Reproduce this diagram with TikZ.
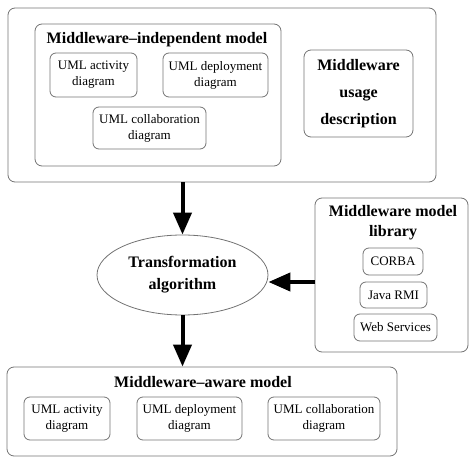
\documentclass[tikz,border=0pt]{standalone}
\usepackage{fontspec}
\setmainfont{Liberation Serif}
\usetikzlibrary{arrows.meta,shapes.geometric}
\begin{document}
\begin{tikzpicture}[x=1pt,y=-1pt,
  bigbox/.style={draw=black!55,line width=0.8pt,rounded corners=7pt,inner sep=0pt},
  smallbox/.style={draw=black!55,line width=0.8pt,rounded corners=6pt,inner sep=0pt,align=center,font=\fontsize{13}{16}\selectfont},
  titletext/.style={align=center,inner sep=0pt,font=\fontsize{16}{20}\bfseries\selectfont},
  bigarrow/.style={line width=4pt,-{Triangle[width=18pt,length=22pt]}}]
\useasboundingbox (0,0) rectangle (474,462);
% top outer
\node[bigbox,minimum width=428pt,minimum height=174pt] (outer) at (222,95) {};
\node[bigbox,minimum width=246pt,minimum height=142pt] (mim) at (158,95) {};
\node[titletext] (mimt) at (157,40) {Middleware--independent model};
\node[smallbox,minimum width=87pt,minimum height=44pt] (act1) at (93.5,75) {UML activity\\diagram};
\node[smallbox,minimum width=105pt,minimum height=44pt] (dep1) at (215.5,75) {UML deployment\\diagram};
\node[smallbox,minimum width=113pt,minimum height=42pt] (col1) at (149.5,128) {UML collaboration\\diagram};
\node[bigbox,minimum width=109pt,minimum height=87pt,align=center,font=\fontsize{16}{27}\bfseries\selectfont] (usage) at (358.5,93.5) {Middleware\\usage\\description};
% ellipse
\node[ellipse,draw=black!55,line width=0.8pt,minimum width=171pt,minimum height=80pt,inner sep=0pt,align=center,font=\fontsize{16}{22}\bfseries\selectfont] (ell) at (182.5,275) {Transformation\\algorithm};
% library
\node[bigbox,minimum width=153pt,minimum height=154pt] (lib) at (391.5,275) {};
\node[titletext] (libt) at (393,223) {Middleware model\\library};
\node[smallbox,minimum width=60pt,minimum height=27pt] (corba) at (393,261.5) {CORBA};
\node[smallbox,minimum width=67pt,minimum height=26pt] (rmi) at (393.5,295) {Java RMI};
\node[smallbox,minimum width=83pt,minimum height=27pt] (ws) at (395.5,327.5) {Web Services};
% bottom
\node[bigbox,minimum width=390pt,minimum height=89pt] (bot) at (202,411.5) {};
\node[titletext] (bott) at (203,382) {Middleware--aware model};
\node[smallbox,minimum width=86pt,minimum height=43pt] (act2) at (67,418.5) {UML activity\\diagram};
\node[smallbox,minimum width=105pt,minimum height=43pt] (dep2) at (189.5,418.5) {UML deployment\\diagram};
\node[smallbox,minimum width=112pt,minimum height=43pt] (col2) at (324,418.5) {UML collaboration\\diagram};
% arrows
\draw[bigarrow] (ell.north |- outer.south) -- (ell.north);
\draw[bigarrow] (ell.south) -- (ell.south |- bot.north);
\draw[bigarrow] ([yshift=-7pt]lib.west) -- ([yshift=-7pt]ell.east);
\end{tikzpicture}
\end{document}
